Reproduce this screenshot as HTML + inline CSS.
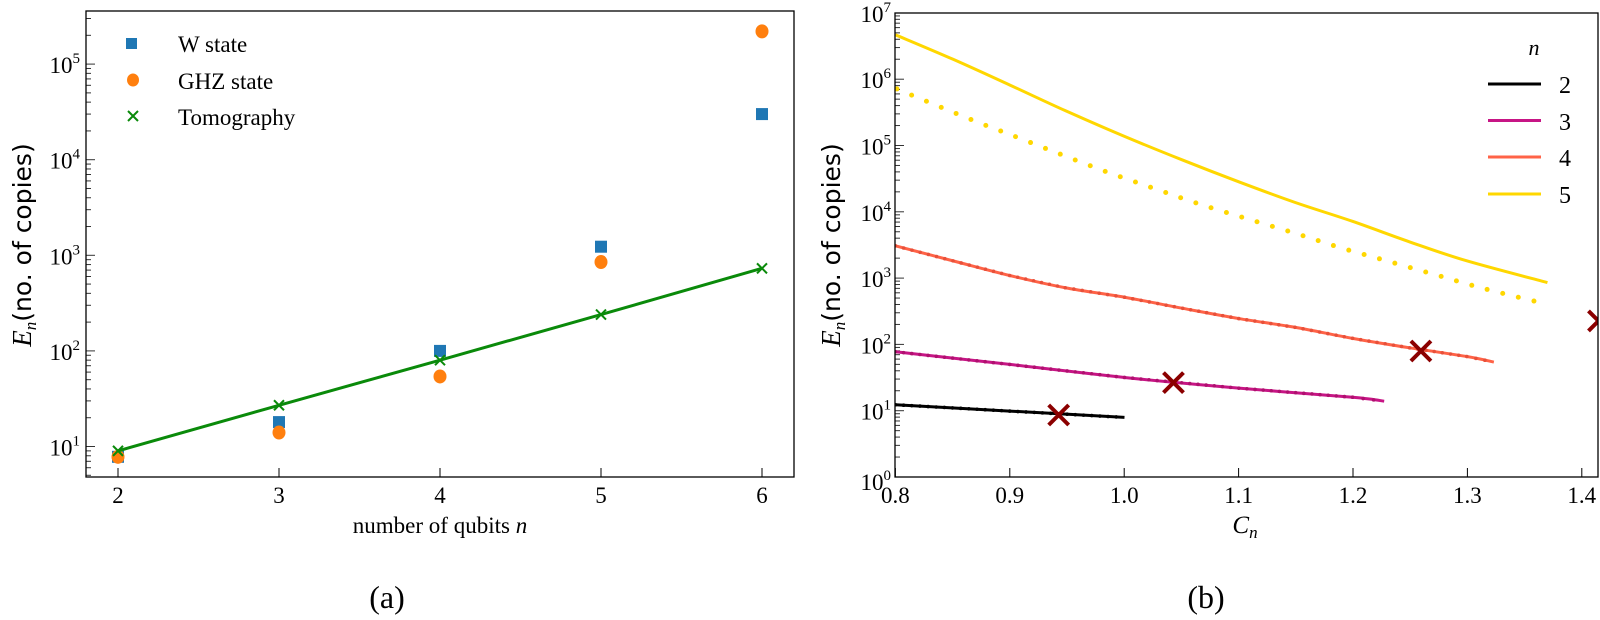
<!DOCTYPE html>
<html><head><meta charset="utf-8">
<style>
body{margin:0;background:#fff;}
svg{display:block;}
text{font-family:"Liberation Serif","DejaVu Serif",serif;fill:#000;}
.sans{font-family:"DejaVu Sans","Liberation Sans",sans-serif;}
</style></head>
<body>
<svg id="s" width="1600" height="620" viewBox="0 0 1600 620" xmlns="http://www.w3.org/2000/svg">
<rect width="1600" height="620" fill="#fff"/>
<g id="g"></g>
<text x="440" y="533" font-size="23" text-anchor="middle">number of qubits <tspan font-style="italic">n</tspan></text>
<text transform="translate(31,245) rotate(-90)" font-size="25" text-anchor="middle"><tspan font-style="italic" font-size="27">E</tspan><tspan font-style="italic" font-size="17" dy="5">n</tspan><tspan class="sans" dy="-5">(no. of copies)</tspan></text>
<text x="387" y="608" font-size="32" text-anchor="middle">(a)</text>
<rect x="126" y="38" width="11" height="11" fill="#1f77b4"/>
<ellipse cx="133" cy="80" rx="6" ry="6.5" fill="#ff7f0e"/>
<path d="M128 111 l10 10 M138 111 l-10 10" stroke="#0a8a0a" stroke-width="2"/>
<text x="178" y="52" font-size="23">W state</text>
<text x="178" y="89" font-size="23">GHZ state</text>
<text x="178" y="125" font-size="23">Tomography</text>
<text x="1245" y="533" font-size="25" text-anchor="middle" font-style="italic">C<tspan font-size="17" dy="5">n</tspan></text>
<text transform="translate(840,245) rotate(-90)" font-size="25" text-anchor="middle"><tspan font-style="italic" font-size="27">E</tspan><tspan font-style="italic" font-size="17" dy="5">n</tspan><tspan class="sans" dy="-5">(no. of copies)</tspan></text>
<text x="1206" y="608" font-size="32" text-anchor="middle">(b)</text>
<text x="1534" y="55" font-size="22" font-style="italic" text-anchor="middle">n</text>
<line x1="1488" y1="84" x2="1541" y2="84" stroke="#000" stroke-width="3"/>
<line x1="1488" y1="120.5" x2="1541" y2="120.5" stroke="#c71585" stroke-width="3"/>
<line x1="1488" y1="157" x2="1541" y2="157" stroke="#ff6347" stroke-width="3"/>
<line x1="1488" y1="194" x2="1541" y2="194" stroke="#ffd700" stroke-width="3"/>
<text x="1559" y="93" font-size="24">2</text>
<text x="1559" y="130" font-size="24">3</text>
<text x="1559" y="166" font-size="24">4</text>
<text x="1559" y="203" font-size="24">5</text>
</svg>
<script>
var NS="http://www.w3.org/2000/svg",g=document.getElementById('g');
function el(t,a,txt){var e=document.createElementNS(NS,t);for(var k in a)e.setAttribute(k,a[k]);if(txt!==undefined)e.textContent=txt;g.appendChild(e);return e;}
function L(x1,y1,x2,y2,c,w){el('line',{x1:x1,y1:y1,x2:x2,y2:y2,stroke:c||'#000','stroke-width':w||1});}
function lg(v){return Math.log(v)/Math.LN10;}
var lx0=86,lx1=794,ly0=11,ly1=477;
function LX(n){return 118+(n-2)*161;}
function LY(v){return 446.5-95.6*(lg(v)-1);}
el('defs',{}).innerHTML='<clipPath id="cl"><rect x="86" y="11" width="708" height="466"/></clipPath><clipPath id="cr"><rect x="895" y="13" width="703" height="464"/></clipPath>';
for(var d=0;d<=5;d++){for(var m=1;m<10;m++){var y=LY(m*Math.pow(10,d));if(y<ly0||y>ly1)continue;L(lx0,y,lx0+(m==1?9:5),y,'#333',1);}}
for(var d=1;d<=5;d++){var y=LY(Math.pow(10,d));var t=el('text',{x:80,y:y+9,'font-size':23,'text-anchor':'end'});t.innerHTML='10<tspan font-size="15" dy="-10">'+d+'</tspan>';}
for(var n=2;n<=6;n++){L(LX(n),ly1,LX(n),ly1-9,'#000',1);el('text',{x:LX(n),y:503,'font-size':23,'text-anchor':'middle'},''+n);}
el('rect',{x:lx0,y:ly0,width:lx1-lx0,height:ly1-ly0,fill:'none',stroke:'#000','stroke-width':1.3});
var W=[7.8,18,100,1230,30000],G=[7.8,14,54,850,220000],T=[9,27,80,240,730];
var lc=el('g',{'clip-path':'url(#cl)'});
for(var i=0;i<5;i++){var x=LX(i+2);
 var r=document.createElementNS(NS,'rect');r.setAttribute('x',x-6);r.setAttribute('y',LY(W[i])-6);r.setAttribute('width',12);r.setAttribute('height',12);r.setAttribute('fill','#1f77b4');lc.appendChild(r);}
for(var i=0;i<5;i++){var x=LX(i+2);var c=document.createElementNS(NS,'ellipse');c.setAttribute('cx',x);c.setAttribute('cy',LY(G[i]));c.setAttribute('rx',6.5);c.setAttribute('ry',7);c.setAttribute('fill','#ff7f0e');lc.appendChild(c);}
var pts=[];for(var i=0;i<5;i++)pts.push(LX(i+2)+','+LY(T[i]));
el('polyline',{points:pts.join(' '),fill:'none',stroke:'#0a8a0a','stroke-width':3});
for(var i=0;i<5;i++){var x=LX(i+2),y=LY(T[i]);el('path',{d:'M'+(x-5)+' '+(y-5)+'l10 10M'+(x+5)+' '+(y-5)+'l-10 10',stroke:'#0a8a0a','stroke-width':2});}
var rx0=895,rx1=1598,ry0=13,ry1=477;
function RX(c){return 895.4+(c-0.8)*1144;}
function RY(v){return 477-66.3*lg(v);}
for(var d=0;d<7;d++){for(var m=1;m<10;m++){var y=RY(m*Math.pow(10,d));L(rx0,y,rx0+(m==1?9:5),y,'#333',1);}}
for(var d=0;d<=7;d++){var y=RY(Math.pow(10,d));var t=el('text',{x:rx0-4,y:y+(d==0?13:9),'font-size':23,'text-anchor':'end'});t.innerHTML='10<tspan font-size="15" dy="-10">'+d+'</tspan>';}
for(var k=0;k<=6;k++){var c=0.8+k*0.1,x=RX(c);L(x,ry1,x,ry1-9,'#000',1);el('text',{x:x,y:503,'font-size':23,'text-anchor':'middle'},c.toFixed(1));}
function Z(a){return a.map(function(p){return [800+p[0]/1.96,p[1]/2.53];});}
var rc=el('g',{'clip-path':'url(#cr)'});
function smooth(a){var d='M'+a[0][0]+' '+a[0][1];for(var i=0;i<a.length-1;i++){var p0=a[Math.max(0,i-1)],p1=a[i],p2=a[i+1],p3=a[Math.min(a.length-1,i+2)];var c1=[p1[0]+(p2[0]-p0[0])/6,p1[1]+(p2[1]-p0[1])/6],c2=[p2[0]-(p3[0]-p1[0])/6,p2[1]-(p3[1]-p1[1])/6];d+='C'+c1+' '+c2+' '+p2;}return d;}
function path(a,col,w,extra){var e=document.createElementNS(NS,'path');e.setAttribute('d',smooth(a));e.setAttribute('fill','none');e.setAttribute('stroke',col);e.setAttribute('stroke-width',w);for(var k in extra)e.setAttribute(k,extra[k]);rc.appendChild(e);return e;}
function dots(a,col,step){for(var i=1;i<a.length;i++){var dx=a[i][0]-a[i-1][0],dy=a[i][1]-a[i-1][1],len=Math.sqrt(dx*dx+dy*dy),n=Math.floor(len/step);for(var j=0;j<n;j++){var c=document.createElementNS(NS,'circle');c.setAttribute('cx',a[i-1][0]+dx*j/n);c.setAttribute('cy',a[i-1][1]+dy*j/n);c.setAttribute('r',1.8);c.setAttribute('fill',col);rc.appendChild(c);}}}
var s5=Z([[187,88],[300,150],[411,215],[520,280],[636,345],[750,405],[860,460],[970,512],[1083,560],[1195,612],[1307,660],[1465,715]]);
var d5=Z([[190,225],[255,260],[350,310],[411,340],[500,385],[595,432],[690,475],[780,515],[875,553],[970,590],[1060,627],[1150,660],[1245,695],[1340,730],[1465,770]]);
var n4=Z([[187,622],[300,660],[411,697],[520,728],[636,752],[750,780],[860,806],[970,828],[1083,856],[1195,880],[1307,902],[1360,916]]);
var n3=Z([[187,890],[411,922],[636,955],[860,982],[1083,1005],[1145,1015]]);
var n2=Z([[187,1024],[411,1040],[636,1056]]);
path(s5,'#ffd700',3);
path(d5,'#ffd700',5,{'stroke-dasharray':'0 16','stroke-linecap':'round'});
path(n4,'#ff6347',3);dots(n4,'#e8503a',8);
path(n3,'#c71585',3);dots(n3,'#b0106f',8);
path(n2,'#000',3);dots(n2,'#000',8);
var X=Z([[507,1050],[732,968],[1217,888],[1565,812]]);
X.forEach(function(p){var e=document.createElementNS(NS,'path');e.setAttribute('d','M'+(p[0]-10)+' '+(p[1]-10)+'l20 20M'+(p[0]+10)+' '+(p[1]-10)+'l-20 20');e.setAttribute('stroke','#8b0000');e.setAttribute('stroke-width',4);rc.appendChild(e);});
el('rect',{x:rx0,y:ry0,width:rx1-rx0,height:ry1-ry0,fill:'none',stroke:'#000','stroke-width':1.3});
</script>
</body></html>
